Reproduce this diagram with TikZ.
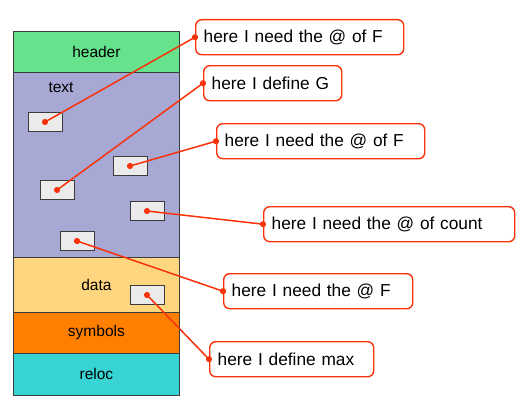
\documentclass[tikz,border=0pt]{standalone}
\usepackage{fontspec}
\setmainfont{Liberation Sans}
\usetikzlibrary{arrows.meta}
\definecolor{hdrgreen}{RGB}{102,226,140}
\definecolor{txtlilac}{RGB}{168,168,212}
\definecolor{datasand}{RGB}{255,214,128}
\definecolor{symorange}{RGB}{255,128,0}
\definecolor{reloccyan}{RGB}{56,212,212}
\definecolor{linkred}{RGB}{250,50,10}
\definecolor{slotgray}{RGB}{235,235,235}
\definecolor{edgegray}{RGB}{60,60,60}
\tikzset{
  seg/.style={draw=edgegray,line width=.8pt,anchor=north west,minimum width=166pt,inner sep=0pt,font=\fontsize{15.5}{17}\selectfont},
  slot/.style={draw=edgegray,fill=slotgray,line width=.8pt,minimum width=34pt,minimum height=19pt,inner sep=0pt},
  note/.style={draw=linkred,line width=1.4pt,rounded corners=6pt,fill=white,anchor=north west,minimum height=35pt,inner xsep=8pt,align=left,font=\fontsize{17.3}{20}\selectfont},
  link/.style={draw=linkred,line width=1.5pt,{Circle[length=6pt]}-{Circle[length=6pt]},shorten <=-3pt,shorten >=-3pt},
}
\begin{document}
\begin{tikzpicture}[x=1pt,y=-1pt]
  \useasboundingbox (0,0) rectangle (521,404);
  % the object file, top to bottom
  \node[seg,fill=hdrgreen,minimum height=41pt] (header) at (13,31) {header};
  \node[seg,fill=txtlilac,minimum height=185pt] (text) at (13,72) {};
  \node[seg,fill=datasand,minimum height=55pt] (data) at (13,257) {data};
  \node[seg,fill=symorange,minimum height=41pt] (symbols) at (13,312) {symbols};
  \node[seg,fill=reloccyan,minimum height=42pt] (reloc) at (13,353) {reloc};
  \node[font=\fontsize{15.5}{17}\selectfont] (textlbl) at (61,88) {text};
  % slots that need a fix-up
  \foreach \n/\x/\y in {s1/45/122, s2/130/166, s3/57/190, s4/147/211, s5/77/241, s6/147/295}
    \node[slot] (\n) at (\x,\y) {};
  % remarks
  \node[note,text width=192pt] (nA) at (195,19) {here I need the @ of F};
  \node[note,text width=122pt] (nB) at (203,65) {here I define G};
  \node[note,text width=192pt] (nC) at (216,123) {here I need the @ of F};
  \node[note,text width=235pt] (nD) at (263,206) {here I need the @ of count};
  \node[note,text width=173pt] (nE) at (223,273) {here I need the @ F};
  \node[note,text width=148pt] (nF) at (209,341) {here I define max};
  \foreach \s/\t in {s1/nA, s3/nB, s2/nC, s4/nD, s5/nE, s6/nF}
    \draw[link] (\s.center) -- (\t.west);
\end{tikzpicture}
\end{document}
